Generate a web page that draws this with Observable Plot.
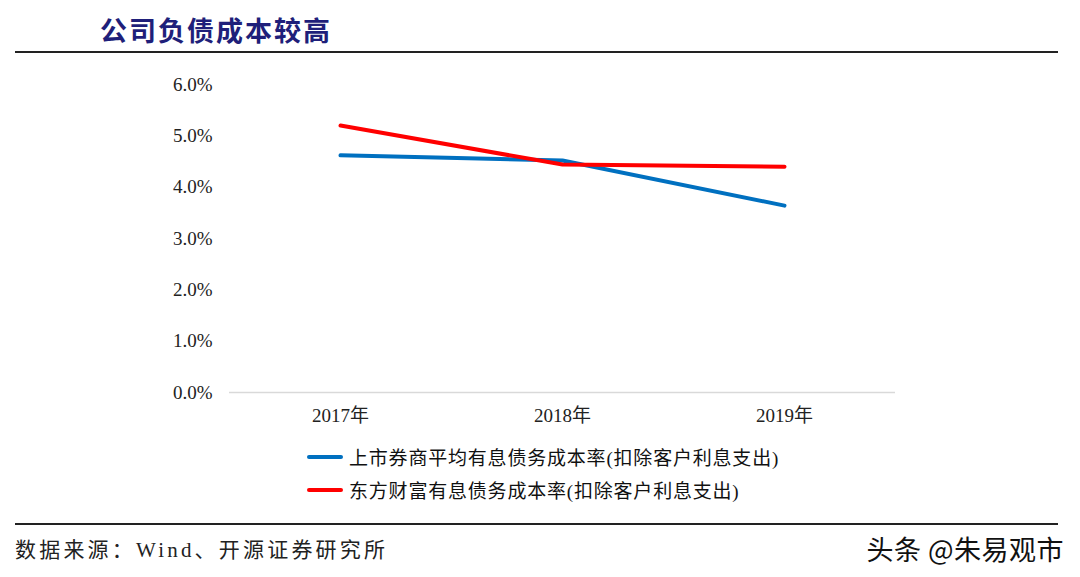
<!DOCTYPE html>
<html><head><meta charset="utf-8">
<script src="https://cdn.jsdelivr.net/npm/d3@7"></script>
<script src="https://cdn.jsdelivr.net/npm/@observablehq/plot@0.6"></script>
<style>
body{margin:0;background:#fff;width:1080px;height:577px;position:relative;overflow:hidden;font-family:"Liberation Serif","Noto Sans CJK SC",serif;}
#title{position:absolute;left:100px;top:10px;font-size:27px;font-weight:bold;color:#1f1f7a;font-family:"Noto Sans CJK SC",sans-serif;letter-spacing:2px;}
.hr{position:absolute;left:15px;width:1043px;height:2px;background:#222;}
#chart{position:absolute;left:0;top:60px;}
.leg{position:absolute;left:307px;font-size:19px;color:#111;display:flex;align-items:center;letter-spacing:0.8px;}
.leg span.sw{display:inline-block;width:36px;height:4px;border-radius:2px;margin-right:6px;}
#src{position:absolute;left:15px;top:533px;font-size:21px;color:#222;letter-spacing:3.2px;}
#wm{position:absolute;right:16px;top:529px;font-size:27px;color:#111;font-family:"Noto Sans CJK SC",sans-serif;letter-spacing:0.5px;}
</style></head>
<body>
<div id="title">公司负债成本较高</div>
<div class="hr" style="top:51px"></div>
<div id="chart"></div>
<div class="leg" style="top:443px"><span class="sw" style="background:#0070C0"></span>上市券商平均有息债务成本率(扣除客户利息支出)</div>
<div class="leg" style="top:476px"><span class="sw" style="background:#FF0000"></span>东方财富有息债务成本率(扣除客户利息支出)</div>
<div class="hr" style="top:523px"></div>
<div id="src">数据来源：Wind、开源证券研究所</div>
<div id="wm">头条 @朱易观市</div>
<script>
const years = ["2017年","2018年","2019年"];
const industryAvg = [0.0462, 0.0452, 0.0364];
const eastMoney = [0.0520, 0.0444, 0.0440];
const yTicks = [0,0.01,0.02,0.03,0.04,0.05,0.06];
const seriesNames = ["上市券商平均有息债务成本率(扣除客户利息支出)","东方财富有息债务成本率(扣除客户利息支出)"];
const colors = ["#0070C0","#FF0000"];

const rows = [];
years.forEach((y,i)=>{rows.push({year:y,value:industryAvg[i],s:seriesNames[0]});});
years.forEach((y,i)=>{rows.push({year:y,value:eastMoney[i],s:seriesNames[1]});});

const chart = Plot.plot({
  width:1080, height:380,
  marginLeft:229, marginRight:185, marginTop:24, marginBottom:48,
  style:{fontFamily:'"Liberation Serif","Noto Sans CJK SC",serif', fontSize:"19px", color:"#222", background:"#fff"},
  x:{type:"point", domain:years, padding:0.5, label:null, tickSize:0, tickPadding:16},
  y:{domain:[0,0.06], ticks:yTicks, tickFormat:d3.format(".1%"), label:null, tickSize:0, tickPadding:17},
  color:{domain:seriesNames, range:colors},
  marks:[
    Plot.ruleY([0],{stroke:"#d9d9d9", strokeWidth:1.5}),
    Plot.line(rows,{x:"year", y:"value", z:"s", stroke:"s", strokeWidth:4, strokeLinecap:"round"})
  ]
});
document.getElementById("chart").appendChild(chart);
</script>
</body></html>
